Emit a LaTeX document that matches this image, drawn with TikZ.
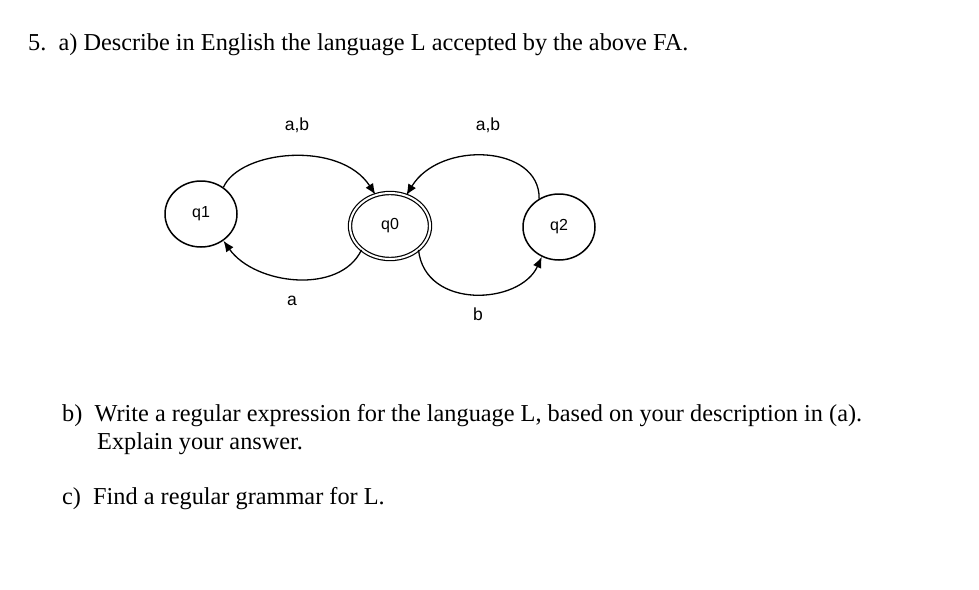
\documentclass[tikz,border=0pt]{standalone}
\usepackage{fontspec}
\setmainfont{Liberation Serif}
\newfontfamily\lab{Liberation Sans}
\usetikzlibrary{shapes.geometric,arrows.meta}
\begin{document}
\begin{tikzpicture}[x=1pt,y=-1pt,
  st/.style={draw,line width=1.5pt,ellipse,minimum width=72pt,minimum height=66pt,inner sep=0pt,font=\lab\fontsize{16}{18}\selectfont},
  tx/.style={anchor=west,inner sep=0pt,font=\fontsize{24.3}{27}\selectfont},
  lb/.style={inner sep=0pt,font=\lab\fontsize{17.5}{20}\selectfont},
  ed/.style={line width=1.3pt,-{Latex[length=11pt,width=9pt]}}]
\useasboundingbox (0,0) rectangle (979,589);
\node[tx] (t1) at (28,45) {5.\ \ a) Describe in English the language L accepted by the above FA.};
\node[tx] (t2) at (62,416) {b)\ \ Write a regular expression for the language L, based on your description in (a).};
\node[tx] (t3) at (97,444) {Explain your answer.};
\node[tx] (t4) at (62,499) {c)\ \ Find a regular grammar for L.};
\node[st] (q1) at (201,214) {q1};
\node[st,double,line width=1.2pt,double distance=2pt,minimum width=80pt] (q0) at (390,226) {q0};
\node[st] (q2) at (559,227) {q2};
\node[lb] (l1) at (297,125) {a,b};
\node[lb] (l2) at (488,125) {a,b};
\node[lb] (l3) at (292,301) {a};
\node[lb] (l4) at (478,314) {b};
\draw[ed] (q1.50) .. controls (240,150) and (340,140) .. (q0.115);
\draw[ed] (q0.220) .. controls (340,295) and (255,285) .. (q1.-50);
\draw[ed] (q2.125) .. controls (540,145) and (440,140) .. (q0.62);
\draw[ed] (q0.-40) .. controls (425,310) and (520,305) .. (q2.-120);
\end{tikzpicture}
\end{document}
